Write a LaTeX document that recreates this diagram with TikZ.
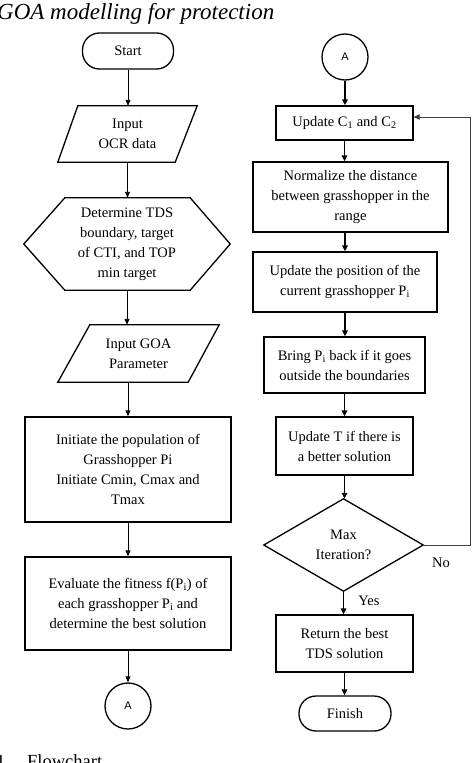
\documentclass[tikz,border=0pt]{standalone}
\usepackage{fontspec}
\setmainfont{Liberation Serif}
\newfontfamily\sansA{Liberation Sans}
\usetikzlibrary{arrows.meta,calc}
\begin{document}
\begin{tikzpicture}[x=1pt,y=-1pt,
  txt/.style={font=\fontsize{14.5}{20}\selectfont, align=center, inner sep=0pt},
  box/.style={txt, draw, line width=1.3pt},
  ghost/.style={txt, draw=none},
  term/.style={txt, draw, line width=1.3pt, rounded corners=17pt},
  conn/.style={circle, draw, line width=1.3pt, minimum size=46pt, inner sep=0pt, font=\sansA\fontsize{11}{13}\selectfont},
  outline/.style={line width=1.3pt, line join=miter},
  arrL/.style={line width=0.9pt, -{Triangle[length=6pt,width=5pt]}},
  arrR/.style={line width=1.6pt, -{Triangle[length=6pt,width=5.5pt]}},
  fbline/.style={line width=0.8pt, draw=black!75, -{Triangle[length=6pt,width=5.5pt]}},
  lbl/.style={font=\fontsize{14.5}{20}\selectfont, inner sep=0pt}
]
\useasboundingbox (0,0) rectangle (474,763);

% title and caption
\node[anchor=base west, inner sep=0pt, font=\fontsize{23}{26}\selectfont\itshape] (title) at (-3,19.5) {GOA modelling for protection};
\node[anchor=base west, inner sep=0pt, font=\fontsize{18.5}{22}\selectfont] (capnum) at (-4,767) {1};
\node[anchor=base west, inner sep=0pt, font=\fontsize{18.5}{22}\selectfont] (captxt) at (27,767) {Flowchart};

% left column
\node[term, minimum width=91pt, minimum height=36pt] (start) at (128,51) {Start};
\node[ghost, minimum width=139pt, minimum height=56pt] (ocr) at (127.5,134) {Input\\OCR data};
\draw[outline] ($(ocr.north west)+(20,0)$) -- (ocr.north east) -- ($(ocr.south east)+(-22,0)$) -- (ocr.south west) -- cycle;
\node[ghost, minimum width=206pt, minimum height=92pt] (hex) at (127,244) {Determine TDS\\boundary, target\\of CTI, and TOP\\min target};
\draw[outline] (hex.west) -- ($(hex.north west)+(41,0)$) -- ($(hex.north east)+(-40,0)$) -- (hex.east) -- ($(hex.south east)+(-40,0)$) -- ($(hex.south west)+(41,0)$) -- cycle;
\node[ghost, minimum width=161pt, minimum height=57pt] (goa) at (138.5,353.5) {Input GOA\\Parameter};
\draw[outline] ($(goa.north west)+(32,0)$) -- (goa.north east) -- ($(goa.south east)+(-31,0)$) -- (goa.south west) -- cycle;
\node[box, minimum width=206pt, minimum height=105pt] (init) at (128,469.5) {Initiate the population of\\Grasshopper Pi\\Initiate Cmin, Cmax and\\Tmax};
\node[box, minimum width=206pt, minimum height=93pt] (eval) at (128,603.5) {Evaluate the fitness f(P\textsubscript{i}) of\\each grasshopper P\textsubscript{i} and\\determine the best solution};
\node[conn] (aL) at (128,706) {A};

\draw[arrL] (start.south) -- (start.south |- ocr.north);
\draw[arrL] (ocr.south) -- (ocr.south |- hex.north);
\draw[arrL] (hex.south) -- (hex.south |- goa.north);
\draw[arrL] (init.north |- goa.south) -- (init.north);
\draw[arrL] (init.south) -- (eval.north);
\draw[arrL] (eval.south) -- (aL.north);

% right column
\node[conn] (aR) at (345,57) {A};
\node[box, minimum width=137pt, minimum height=34pt] (uc) at (344.5,123) {Update C\textsubscript{1} and C\textsubscript{2}};
\node[box, minimum width=195pt, minimum height=70pt] (norm) at (350.5,197) {Normalize the distance\\between grasshopper in the\\range};
\node[box, minimum width=184pt, minimum height=60pt] (pos) at (345,282) {Update the position of the\\current grasshopper P\textsubscript{i}};
\node[box, minimum width=161pt, minimum height=56pt] (bring) at (344.5,365) {Bring P\textsubscript{i} back if it goes\\outside the boundaries};
\node[box, minimum width=137pt, minimum height=58pt] (updT) at (344.5,446) {Update T if there is\\a better solution};
\node[ghost, minimum width=159pt, minimum height=92pt] (dia) at (343.5,545) {Max\\Iteration?};
\draw[outline] (dia.north) -- (dia.east) -- (dia.south) -- (dia.west) -- cycle;
\node[box, minimum width=137pt, minimum height=57pt] (ret) at (344.5,643.5) {Return the best\\TDS solution};
\node[term, minimum width=92pt, minimum height=35pt] (fin) at (345,713.5) {Finish};

\draw[arrR] (aR.south) -- (aR.south |- uc.north);
\draw[arrR] (uc.south) -- (uc.south |- norm.north);
\draw[arrR] (pos.north |- norm.south) -- (pos.north);
\draw[arrR] (pos.south) -- (pos.south |- bring.north);
\draw[arrR] (bring.south) -- (bring.south |- updT.north);
\draw[arrR] (updT.south) -- (updT.south |- dia.north);
\draw[arrR] (dia.south) -- (dia.south |- ret.north);
\draw[arrR] (ret.south) -- (ret.south |- fin.north);

\coordinate (fbB) at (470,545);
\coordinate (fbT) at (470,117);
\draw[fbline] (dia.east) -- (fbB) -- (fbT) -- (uc.east |- fbT);

\node[lbl, anchor=center] (no) at (441,563) {No};
\node[lbl, anchor=center] (yes) at (369,601) {Yes};
\end{tikzpicture}
\end{document}
